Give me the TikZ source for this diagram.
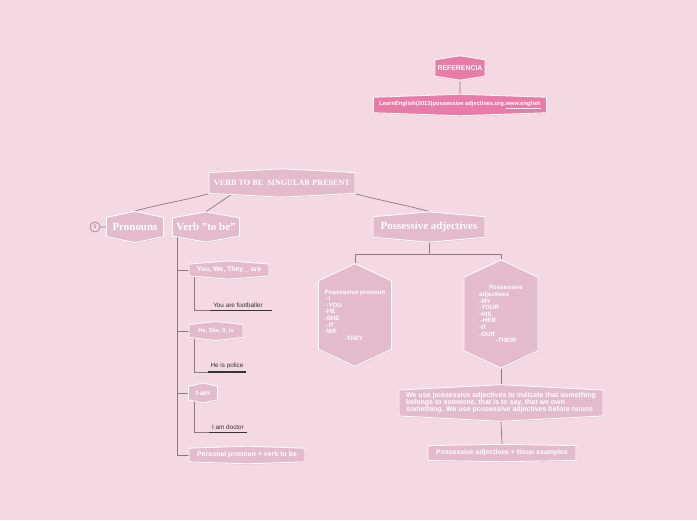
\documentclass[tikz,border=0pt]{standalone}
\usepackage{fontspec}
\setmainfont{Liberation Serif}
\newfontfamily\labelfont{Liberation Sans}
\usetikzlibrary{positioning,shapes.symbols,shadows,backgrounds}

\definecolor{bgpink}{HTML}{F4D9E3}
\definecolor{boxpink}{HTML}{E3BBCB}
\definecolor{refpink}{HTML}{E97CA7}
\definecolor{linegray}{HTML}{8C7B83}
\definecolor{textdark}{HTML}{333333}

\begin{document}
\begin{tikzpicture}[x=0.025cm,y=-0.025cm,
    every node/.style={text=white, inner sep=1pt},
    hexbox/.style={signal, signal to=north and south, draw=white, line width=0.6pt,
        fill=boxpink, drop shadow={shadow xshift=0.3pt, shadow yshift=-0.7pt, opacity=0.18}},
    refbox/.style={hexbox, fill=refpink},
    mainfont/.style={font=\fontsize{7.8}{8}\selectfont\bfseries},
    smallfont/.style={font=\labelfont\fontsize{4.9}{5.2}\selectfont\bfseries},
    listfont/.style={font=\labelfont\fontsize{4.4}{4.7}\selectfont\bfseries},
    leaf/.style={text=textdark, font=\labelfont\fontsize{4.5}{5}\selectfont, inner xsep=2pt, inner ysep=2pt},
    link/.style={draw=linegray, line width=0.5pt}]
    \useasboundingbox (0,0) rectangle (697,520);

    % Draw the reference
    \node[refbox, smallfont, minimum width=1.25cm, minimum height=0.6cm, signal pointer angle=162] (ref) at (460,68) {REFERENCIA};
    \node[refbox, font=\labelfont\fontsize{4.1}{5}\selectfont\bfseries, minimum width=4.33cm, minimum height=0.53cm, signal pointer angle=176] (web) at (460,105) {LearnEnglish(2013)possessive adjectives.org.\underline{www.english}};

    % Draw the main topic and its subtopics
    \node[hexbox, font=\fontsize{5.8}{6}\selectfont\bfseries, minimum width=3.65cm, minimum height=0.7cm, signal pointer angle=174] (verb) at (282,183) {VERB TO BE \ SINGULAR PRESENT};
    \node[hexbox, mainfont, minimum width=1.43cm, minimum height=0.73cm, signal pointer angle=156] (pron) at (135,227) {Pronouns};
    \node[hexbox, mainfont, minimum width=1.68cm, minimum height=0.73cm, signal pointer angle=160] (tobe) at (206,227) {Verb "to be"};
    \node[hexbox, mainfont, minimum width=2.8cm, minimum height=0.73cm, signal pointer angle=170] (posadj) at (429,227) {Possessive adjectives};
    \node[circle, draw=linegray, line width=0.4pt, minimum size=0.25cm, inner sep=0pt, text=linegray, font=\labelfont\fontsize{3.5}{4}\selectfont] (num) at (95,227) {5};

    % Draw the verb forms
    \node[hexbox, smallfont, minimum width=2cm, minimum height=0.43cm, signal pointer angle=171] (ywt) at (229,270) {You, We, They \_ are};
    \node[hexbox, font=\labelfont\fontsize{4}{5}\selectfont\bfseries, minimum width=1.35cm, minimum height=0.43cm, signal pointer angle=167] (hsi) at (216,331) {He, She, It\_is};
    \node[hexbox, smallfont, minimum width=0.73cm, minimum height=0.43cm, signal pointer angle=156] (iam) at (203,393) {I-am};
    \node[hexbox, smallfont, minimum width=2.9cm, minimum height=0.43cm, signal pointer angle=176] (ppvb) at (247,455) {Personal pronoun + verb to be};
    \node[leaf] (foot) at (238,305) {You are footballer};
    \node[leaf] (police) at (227,366) {He is police};
    \node[leaf] (doctor) at (228,427) {I am doctor};

    % Draw the possessive lists
    \node[hexbox, listfont, align=left, minimum width=1.83cm, minimum height=2.45cm, signal pointer angle=130] (ppron) at (355,315)
        {Possessive pronoun\\ \ -I\\ \ -YOU\\-HE\\-SHE\\ \ -IT\\-WE\\ \hspace{3.2em}-THEY};
    \node[hexbox, listfont, align=left, minimum width=1.85cm, minimum height=2.38cm, signal pointer angle=130] (padj) at (501,314)
        {\hspace{1.6em}Possessive\\adjectives\\-MY\\-YOUR\\-HIS\\ \ -HER\\-IT\\-OUR\\ \hspace{2.7em}-THEIR};
    \node[hexbox, font=\labelfont\fontsize{5}{5.1}\selectfont\bfseries, align=left, minimum width=5.1cm, minimum height=0.9cm, signal pointer angle=174] (use) at (501,403)
        {We use possessive adjectives to indicate that something\\belongs to someone, that is to say, that we own\\something. We use possessive adjectives before nouns};
    \node[hexbox, smallfont, minimum width=3.7cm, minimum height=0.43cm, signal pointer angle=178] (ex) at (502,453) {Possessive adjectives + Noun examples};

    \begin{scope}[on background layer]
        \fill[bgpink] (0,0) rectangle (697,520);
        % Draw the connectors
        \draw[link] (ref) -- (web);
        \draw[link] (verb.south west) to[out=195, in=15] (pron.north);
        \draw[link] ([xshift=0.6cm]verb.south west) -- (tobe.north);
        \draw[link] (verb.south east) to[out=-15, in=165] (posadj.north);
        \draw[link] (num) -- (pron);
        \coordinate (trunk) at ([xshift=0.125cm]tobe.south west);
        \draw[link] (trunk) |- (ywt.west);
        \draw[link] (trunk) |- (hsi.west);
        \draw[link] (trunk) |- (iam.west);
        \draw[link] (trunk) |- (ppvb.west);
        \draw[link] ([xshift=0.15cm]ywt.south west) |- (foot.south west);
        \draw[link] ([xshift=0.15cm]hsi.south west) |- (police.south west);
        \draw[link] ([xshift=0.15cm]iam.south west) |- (doctor.south west);
        \coordinate (fork) at (429,254);
        \draw[link] (posadj.south) -- (fork);
        \draw[link] (fork) -| (ppron.north);
        \draw[link] (fork) -| (padj.north);
        \draw[link] (padj.south) -- (use.north);
        \draw[link] (use.south) -- (ex.north);
    \end{scope}

    % Draw the underlines of the answers
    \draw[textdark, line width=0.8pt] (foot.south west) -- ([xshift=0.15cm]foot.south east);
    \draw[textdark, line width=0.8pt] (police.south west) -- (police.south east);
    \draw[textdark, line width=0.8pt] (doctor.south west) -- (doctor.south east);
\end{tikzpicture}
\end{document}
